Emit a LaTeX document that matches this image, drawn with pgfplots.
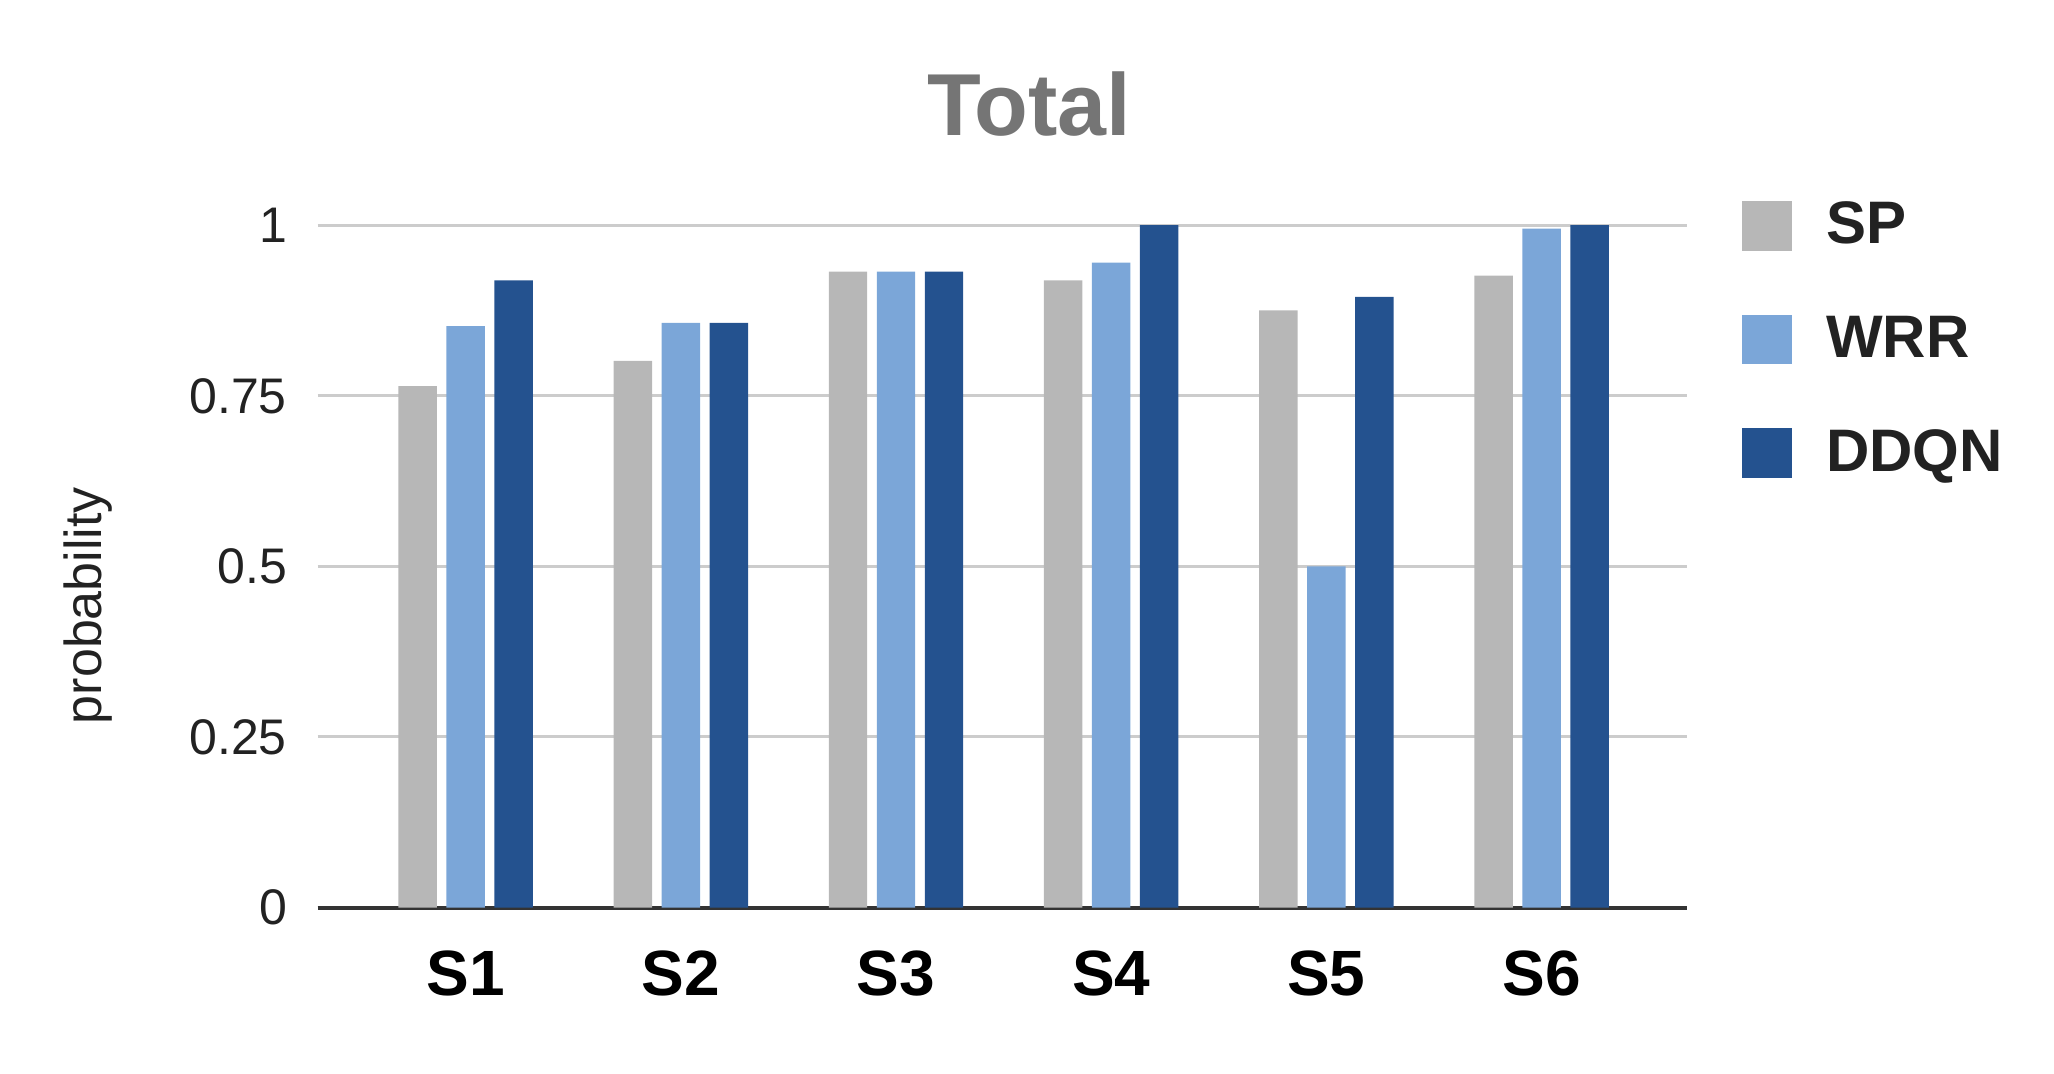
\documentclass[border=0pt]{standalone}
\usepackage{pgfplots}
\pgfplotsset{compat=1.18}
\usepackage{fontspec}
\setmainfont{Liberation Sans}
\definecolor{cSP}{HTML}{B7B7B7}
\definecolor{cWRR}{HTML}{7BA6D8}
\definecolor{cDDQN}{HTML}{24528F}
\definecolor{gridc}{HTML}{CCCCCC}
\definecolor{axisc}{HTML}{333333}
\definecolor{titlec}{HTML}{757575}
\definecolor{txt}{HTML}{222222}
\begin{document}
\begin{tikzpicture}
\useasboundingbox (0,0) rectangle (513.5bp,268.5bp);
\begin{axis}[
  at={(79.4bp,41.6bp)}, anchor=south west,
  scale only axis,
  width=342.4bp, height=170.6bp,
  xmin=-0.688, xmax=5.677,
  ymin=0, ymax=1,
  ybar=2.4bp,
  bar width=9.6bp,
  xtick=data,
  xticklabels={S1,S2,S3,S4,S5,S6},
  ytick={0,0.25,0.5,0.75,1},
  yticklabels={0,0.25,0.5,0.75,1},
  ymajorgrids,
  grid style={gridc, line width=0.75bp},
  extra y ticks={0},
  extra y tick labels={},
  extra y tick style={grid style={axisc, line width=1bp}},
  axis line style={draw=none},
  tick style={draw=none},
  major tick length=0pt,
  /pgf/number format/assume math mode=true,
  xticklabel style={font=\fontsize{16bp}{16bp}\selectfont\bfseries, text=black, anchor=base, yshift=-22bp, inner sep=0pt},
  yticklabel style={font=\fontsize{12.5bp}{12.5bp}\selectfont, text=txt, anchor=east, inner sep=0pt, xshift=-7.5bp},
  legend style={at={(1.031,1.048)}, anchor=north west, draw=none, fill=none,
    font=\fontsize{15bp}{15bp}\selectfont\bfseries, text=txt,
    row sep=16bp,
    nodes={inner sep=0pt},
    /tikz/every odd column/.style={column sep=8.5bp}},
  legend cell align=left,
  legend image code/.code={\fill[#1] (0bp,-6.2bp) rectangle (12.4bp,6.2bp);},
]
\addplot[fill=cSP, draw=none] coordinates {(0,0.764) (1,0.801) (2,0.932) (3,0.919) (4,0.875) (5,0.926)};
\addplot[fill=cWRR, draw=none] coordinates {(0,0.852) (1,0.857) (2,0.932) (3,0.945) (4,0.500) (5,0.995)};
\addplot[fill=cDDQN, draw=none] coordinates {(0,0.919) (1,0.857) (2,0.932) (3,1.000) (4,0.895) (5,1.000)};
\legend{SP,WRR,DDQN}
\end{axis}
\node[anchor=base, text=titlec, font=\fontsize{22bp}{22bp}\selectfont\bfseries] at (257.25bp,234.5bp) {Total};
\node[rotate=90, text=txt, font=\fontsize{13bp}{13bp}\selectfont] at (21.9bp,117.1bp) {probability};
\end{tikzpicture}
\end{document}
